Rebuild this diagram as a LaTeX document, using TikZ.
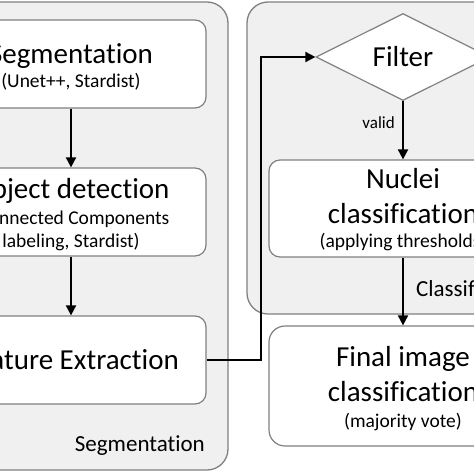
\documentclass[tikz,border=0pt]{standalone}
\usepackage{fontspec}
\setmainfont{Carlito}[Ligatures={NoCommon}]
\usetikzlibrary{shapes.geometric,arrows.meta}
\definecolor{panelgray}{HTML}{F0F0F0}
\definecolor{edgegray}{HTML}{808080}

\begin{document}
\begin{tikzpicture}[x=1pt,y=-1pt,
    panel/.style={draw=edgegray,line width=1.3pt,fill=panelgray,rounded corners=21pt},
    box/.style={draw=edgegray,line width=1.2pt,fill=white,rounded corners=11pt,inner sep=0pt},
    big/.style={font=\fontsize{29}{35}\selectfont,inner sep=0pt},
    small/.style={font=\fontsize{19.5}{24}\selectfont,inner sep=0pt},
    tag/.style={font=\fontsize{23}{28}\selectfont,inner sep=0pt},
    tiny/.style={font=\fontsize{17}{20}\selectfont,inner sep=0pt},
    conn/.style={line width=1.8pt,-{Triangle[length=10pt,width=10pt]}}]
    \useasboundingbox (0,0) rectangle (474,474);
    \clip (0,0) rectangle (474,474);
    \draw [panel] (-60,2) rectangle (228,470);
    \draw [panel] (247,2) rectangle (700,314);
    \node [tag,anchor=base east] (segtag) at (205,451) {Segmentation};
    \node [tag,anchor=base west] (clstag) at (416,296) {Classification};
    \node [box,minimum width=270pt,minimum height=88pt] (seg) at (71,64) {};
    \node [big,anchor=base] (seg1) at (71,63) {Segmentation};
    \node [small,anchor=base] (seg2) at (71,87) {(Unet++, Stardist)};
    \node [box,minimum width=270pt,minimum height=88pt] (obj) at (71,212) {};
    \node [big,anchor=base] (obj1) at (71,198) {Object detection};
    \node [small,anchor=base] (obj2) at (71,224) {(Connected Components};
    \node [small,anchor=base] (obj3) at (71,247) {labeling, Stardist)};
    \node [box,big,minimum width=270pt,minimum height=88pt] (feat) at (71,360) {Feature Extraction};
    \node [diamond,draw=edgegray,line width=1.2pt,fill=white,shape aspect=2,
           minimum width=174pt,minimum height=87pt,big] (filter) at (403,57) {Filter};
    \node [box,minimum width=268pt,minimum height=97pt] (nuc) at (403,208.5) {};
    \node [big,anchor=base] (nuc1) at (403,188) {Nuclei};
    \node [big,anchor=base] (nuc2) at (403,223) {classification};
    \node [small,anchor=base] (nuc3) at (403,247) {(applying thresholds)};
    \node [box,rounded corners=16pt,minimum width=268pt,minimum height=120pt] (fin) at (403,386) {};
    \node [big,anchor=base] (fin1) at (403,366) {Final image};
    \node [big,anchor=base] (fin2) at (403,401) {classification};
    \node [small,anchor=base] (fin3) at (403,427) {(majority vote)};
    \draw [conn] (seg) -- (obj);
    \draw [conn] (obj) -- (feat);
    \draw [conn] (feat.east) -- ++(54,0) |- (filter.west);
    \draw [conn] (filter) -- (nuc);
    \node [tiny,anchor=base east] (valid) at (395,128) {valid};
    \draw [conn] (nuc) -- (fin);
\end{tikzpicture}
\end{document}
